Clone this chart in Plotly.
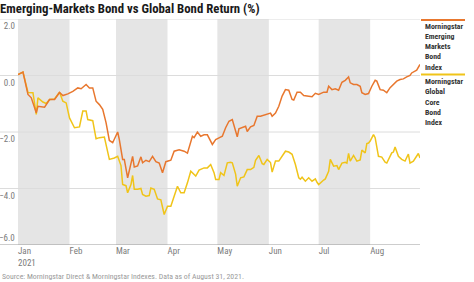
import plotly.graph_objects as go

# ---- data ----
em_dates = [
    "2021-01-01","2021-01-04","2021-01-07","2021-01-09","2021-01-12","2021-01-13","2021-01-17","2021-01-20",
    "2021-01-23","2021-01-26","2021-01-28","2021-01-31",
    "2021-02-03","2021-02-06","2021-02-08","2021-02-11","2021-02-13","2021-02-15","2021-02-17","2021-02-19",
    "2021-02-21","2021-02-23","2021-02-25","2021-02-27",
    "2021-03-02","2021-03-03","2021-03-05","2021-03-06","2021-03-08","2021-03-09","2021-03-11","2021-03-12",
    "2021-03-14","2021-03-16","2021-03-17","2021-03-19","2021-03-21","2021-03-23","2021-03-25","2021-03-27",
    "2021-03-29","2021-03-31",
    "2021-04-03","2021-04-05","2021-04-08","2021-04-11","2021-04-13","2021-04-16","2021-04-17","2021-04-19",
    "2021-04-21","2021-04-23","2021-04-25","2021-04-28","2021-04-30",
    "2021-05-02","2021-05-04","2021-05-06","2021-05-08","2021-05-10","2021-05-11","2021-05-13","2021-05-14",
    "2021-05-16","2021-05-18","2021-05-19","2021-05-21","2021-05-23","2021-05-25","2021-05-27","2021-05-29",
    "2021-05-31",
    "2021-06-02","2021-06-03","2021-06-05","2021-06-07","2021-06-09","2021-06-11","2021-06-13","2021-06-15",
    "2021-06-16","2021-06-18","2021-06-20","2021-06-22","2021-06-24","2021-06-27","2021-06-29",
    "2021-07-01","2021-07-04","2021-07-06","2021-07-07","2021-07-09","2021-07-11","2021-07-13","2021-07-15",
    "2021-07-17","2021-07-19","2021-07-20","2021-07-22","2021-07-24","2021-07-26","2021-07-27","2021-07-29",
    "2021-07-31",
    "2021-08-02","2021-08-04","2021-08-05","2021-08-07","2021-08-09","2021-08-11","2021-08-13","2021-08-15",
    "2021-08-17","2021-08-19","2021-08-21","2021-08-23","2021-08-25","2021-08-26","2021-08-28","2021-08-29",
    "2021-08-31",
]
em_values = [
    0.03, 0.12, -0.67, -0.79, -1.32, -1.09, -1.12, -0.85,
    -0.85, -0.60, -0.71, -0.65,
    -0.56, -0.44, -0.47, -0.32, -0.44, -0.44, -0.91, -1.03,
    -1.20, -1.67, -2.30, -2.38,
    -2.00, -2.27, -2.97, -2.97, -3.62, -3.39, -2.86, -3.24,
    -3.20, -2.88, -3.09, -3.00, -3.05, -2.86, -3.05, -3.10,
    -3.44, -3.05,
    -3.00, -2.68, -2.63, -2.68, -2.75, -2.15, -2.20, -2.00,
    -2.15, -2.10, -2.10, -2.44, -2.27,
    -2.21, -2.15, -1.85, -1.62, -1.56, -1.80, -2.17, -1.89,
    -1.85, -1.80, -1.98, -1.82, -1.77, -1.44, -1.44, -1.41,
    -1.38,
    -1.33, -1.44, -1.33, -1.09, -0.73, -0.50, -0.52, -0.85,
    -0.87, -0.59, -0.59, -0.71, -0.73, -0.75, -0.63,
    -0.67, -0.59, -0.59, -0.38, -0.50, -0.47, -0.52, -0.24,
    -0.17, -0.05, -0.26, -0.32, -0.32, -0.38, -0.61, -0.67,
    -0.64,
    -0.38, -0.17, -0.20, -0.50, -0.52, -0.61, -0.43, -0.31,
    -0.20, -0.14, -0.12, -0.05, 0.00, 0.09, 0.15, 0.19,
    0.39,
]

gl_dates = [
    "2021-01-01","2021-01-04","2021-01-07","2021-01-10","2021-01-12","2021-01-13","2021-01-16","2021-01-18",
    "2021-01-20","2021-01-23","2021-01-26","2021-01-28","2021-01-30",
    "2021-02-01","2021-02-04","2021-02-07","2021-02-09","2021-02-11","2021-02-12","2021-02-15","2021-02-17",
    "2021-02-19","2021-02-22","2021-02-25","2021-02-28",
    "2021-03-02","2021-03-04","2021-03-05","2021-03-07","2021-03-08","2021-03-10","2021-03-11","2021-03-12",
    "2021-03-14","2021-03-16","2021-03-17","2021-03-19","2021-03-21","2021-03-22","2021-03-24","2021-03-26",
    "2021-03-28","2021-03-30",
    "2021-04-01","2021-04-03","2021-04-05","2021-04-07","2021-04-09","2021-04-11","2021-04-13","2021-04-15",
    "2021-04-18","2021-04-20","2021-04-23","2021-04-25","2021-04-27","2021-04-29","2021-04-30",
    "2021-05-02","2021-05-03","2021-05-05","2021-05-07","2021-05-09","2021-05-10","2021-05-12","2021-05-13",
    "2021-05-15","2021-05-17","2021-05-19","2021-05-21","2021-05-23","2021-05-24","2021-05-26","2021-05-28",
    "2021-05-29","2021-05-31",
    "2021-06-02","2021-06-03","2021-06-05","2021-06-07","2021-06-09","2021-06-11","2021-06-13","2021-06-15",
    "2021-06-17","2021-06-19","2021-06-20","2021-06-21","2021-06-23","2021-06-25","2021-06-27","2021-06-29",
    "2021-06-30",
    "2021-07-01","2021-07-04","2021-07-05","2021-07-07","2021-07-08","2021-07-10","2021-07-12","2021-07-13",
    "2021-07-15","2021-07-17","2021-07-18","2021-07-19","2021-07-20","2021-07-22","2021-07-24","2021-07-26",
    "2021-07-27","2021-07-29","2021-07-30","2021-07-31",
    "2021-08-01","2021-08-03","2021-08-04","2021-08-06","2021-08-08","2021-08-10","2021-08-11","2021-08-14",
    "2021-08-15","2021-08-16","2021-08-18","2021-08-20","2021-08-22","2021-08-24","2021-08-25","2021-08-27",
    "2021-08-28","2021-08-30","2021-08-31",
]
gl_values = [
    0.03, 0.12, -0.60, -0.61, -1.38, -0.79, -0.94, -0.99,
    -0.85, -0.83, -0.59, -0.91, -0.97,
    -1.50, -1.85, -1.82, -1.26, -1.26, -1.56, -1.60, -2.24,
    -2.20, -2.18, -2.97, -2.92,
    -2.86, -3.19, -3.86, -3.90, -4.15, -3.86, -3.54, -4.03,
    -4.03, -4.00, -4.21, -4.27, -4.25, -3.98, -4.03, -4.37,
    -4.40, -4.92,
    -4.63, -4.63, -4.27, -3.92, -4.15, -4.15, -3.80, -3.39,
    -3.56, -3.35, -3.27, -3.27, -3.15, -3.44, -3.68,
    -3.68, -3.44, -3.54, -3.09, -3.07, -3.09, -3.49, -3.92,
    -3.62, -3.59, -3.33, -3.33, -3.25, -3.00, -2.83, -3.12,
    -3.15, -2.97,
    -3.08, -3.42, -3.03, -3.03, -2.86, -2.68, -2.71, -2.79,
    -3.15, -3.62, -3.67, -3.60, -3.74, -3.62, -3.74, -3.66,
    -3.78,
    -3.86, -3.70, -3.66, -3.39, -2.97, -3.21, -3.19, -3.33,
    -3.10, -3.07, -3.10, -2.76, -3.03, -2.83, -3.03, -2.99,
    -2.64, -2.74, -2.41, -2.39,
    -2.32, -2.09, -2.20, -2.86, -2.89, -3.07, -3.10, -2.74,
    -2.71, -2.53, -2.86, -2.97, -3.03, -2.78, -3.10, -3.03,
    -2.93, -2.76, -2.92,
]

month_ticks = ["2021-01-01","2021-02-01","2021-03-01","2021-04-01","2021-05-01",
               "2021-06-01","2021-07-01","2021-08-01"]
month_labels = ["Jan<br>2021","Feb","Mar","Apr","May","Jun","Jul","Aug"]
shade_starts = ["2021-01-01","2021-03-01","2021-05-01","2021-07-01"]
shade_ends = ["2021-02-01","2021-04-01","2021-06-01","2021-08-01"]
y_ticks = [-6, -4, -2, 0, 2]
y_min, y_max = -6, 2

em_name = "Morningstar Emerging Markets Bond Index"
gl_name = "Morningstar Global Core Bond Index"
title_text = "Emerging-Markets Bond vs Global Bond Return (%)"
source_text = "Source: Morningstar Direct &amp; Morningstar Indexes. Data as of August 31, 2021."

ORANGE = "#E8772E"
YELLOW = "#F0C419"
FONT = "Roboto Condensed, Liberation Sans Narrow, sans-serif"

W, H = 474, 282
L, R, T, B = 18, 54, 19, 37
PW = W - L - R
PH = H - T - B


def py(pix):  # pixel row -> paper y
    return (H - B - pix) / PH


def px(pix):  # pixel column -> paper x
    return (pix - L) / PW


fig = go.Figure()
fig.add_trace(go.Scatter(x=gl_dates, y=gl_values, mode="lines", name=gl_name,
                         line=dict(color=YELLOW, width=1.5)))
fig.add_trace(go.Scatter(x=em_dates, y=em_values, mode="lines", name=em_name,
                         line=dict(color=ORANGE, width=1.5)))

shapes = []
for s, e in zip(shade_starts, shade_ends):
    shapes.append(dict(type="rect", xref="x", yref="paper", x0=s, x1=e, y0=0, y1=1,
                       fillcolor="#E5E5E5", line=dict(width=0), layer="below"))
for v in y_ticks:
    shapes.append(dict(type="line", xref="paper", yref="y", x0=px(0), x1=1, y0=v, y1=v,
                       line=dict(color="#9A9A9A" if v == y_min else "#DCDCDC", width=1),
                       layer="below"))
# legend swatches
for row, col in ((20, ORANGE), (74.5, YELLOW)):
    shapes.append(dict(type="line", xref="paper", yref="paper", x0=px(421), x1=px(465),
                       y0=py(row), y1=py(row), line=dict(color=col, width=2)))

annotations = []
for name, top in ((em_name, 26), (gl_name, 81.5)):
    for i, word in enumerate(name.split(" ")):
        annotations.append(dict(text="<b>" + word + "</b>", xref="paper", yref="paper",
                                x=px(423), y=py(top + i * 10.3), xanchor="left", yanchor="middle",
                                showarrow=False,
                                font=dict(family=FONT, size=7.8, color="#333333")))
annotations.append(dict(text=source_text, xref="paper", yref="paper", x=px(0), y=py(276),
                        xanchor="left", yanchor="middle", showarrow=False,
                        font=dict(family=FONT, size=7.8, color="#9A9A9A")))
# bottom tick label sits above the axis line
annotations.append(dict(text="\u2212%.1f" % abs(y_min), xref="paper", yref="y", x=px(17), y=y_min,
                        xanchor="right", yanchor="bottom", yshift=0, showarrow=False,
                        font=dict(family=FONT, size=9, color="#7A7A7A")))

fig.update_layout(
    width=W, height=H,
    margin=dict(l=L, r=R, t=T, b=B, autoexpand=False),
    paper_bgcolor="white", plot_bgcolor="white",
    showlegend=False,
    title=dict(text="<b>" + title_text + "</b>", x=0, xref="container", xanchor="left",
               y=1 - 9 / H, yref="container", yanchor="middle", pad=dict(l=0, r=0, t=0, b=0),
               font=dict(family=FONT, size=12.8, color="#1A1A1A")),
    shapes=shapes, annotations=annotations,
    xaxis=dict(type="date", range=["2021-01-01", "2021-08-31"], tickvals=month_ticks,
               ticktext=month_labels, ticks="", showgrid=False, zeroline=False, showline=False,
               automargin=False, ticklabelstandoff=-1,
               ticklabelposition="outside right", tickfont=dict(family=FONT, size=9, color="#7A7A7A")),
    yaxis=dict(range=[y_min, y_max], tickvals=[v for v in y_ticks if v != y_min], tickformat=".1f",
               showgrid=False, automargin=False,
               zeroline=False, showline=False, ticks="", ticklabelshift=7,
               ticklabelstandoff=2,
               tickfont=dict(family=FONT, size=9, color="#7A7A7A")),
)

fig.write_html("out.html")
